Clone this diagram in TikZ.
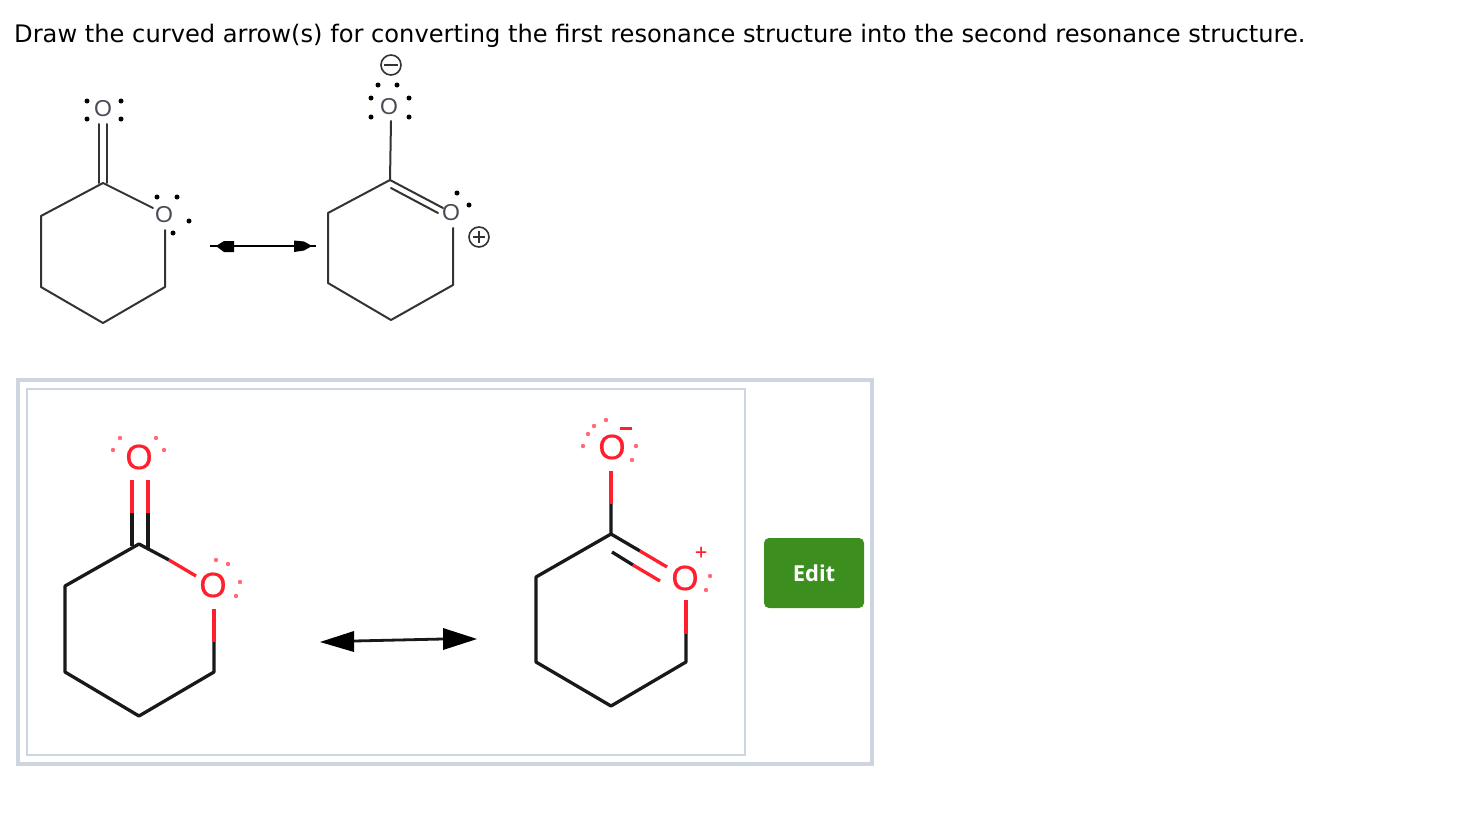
\documentclass[tikz,border=0pt]{standalone}
\usepackage{fontspec}
\setmainfont{DejaVu Sans}
\newfontfamily\atomfont{Liberation Sans}
\newfontfamily\atomboldfont[FakeBold=0.5]{Liberation Sans}
\newfontfamily\btnfont{Open Sans}
\usetikzlibrary{calc}
\definecolor{frameblue}{HTML}{CDD5E1}
\definecolor{btngreen}{HTML}{3C8F1F}
\definecolor{atomred}{HTML}{FF1F2D}
\definecolor{dotred}{HTML}{FF6B74}
\definecolor{atomgrey}{HTML}{4A4A55}
\newcommand{\pxfont}[1]{\fontsize{#1}{#1}\selectfont}
\tikzset{
  x=1pt,y=-1pt,
  thinbond/.style={draw=black!80,line width=2pt,line cap=round,line join=round},
  redbond/.style={draw=atomred,line width=3.3pt},
  blackbond/.style={draw=black!90,line width=3.3pt,line join=round},
  topO/.style={text=atomgrey,inner sep=0pt,font=\atomfont\pxfont{23}},
  redO/.style={text=atomred,inner sep=0pt,font=\atomboldfont\pxfont{35}},
  sign/.style={text=atomred,inner sep=0pt,font=\atomboldfont\pxfont{21}},
  charge/.style={circle,draw=black!80,line width=1.6pt,minimum size=20pt,inner sep=0pt},
  arrowfill/.style={fill=black,draw=none},
}
\begin{document}
\begin{tikzpicture}
\useasboundingbox (0,0) rectangle (1478,822);
\fill[white] (0,0) rectangle (1478,822);
\node[anchor=base west,inner sep=0pt,font=\pxfont{24.15}] (title) at (14,42)
  {Draw the curved arrow(s) for converting the first resonance structure into the second resonance structure.};

% --- top left molecule
\node[topO] (a1) at (103,109) {O};
\node[topO] (a2) at (164,215) {O};
\coordinate (ac) at (103,183);
\coordinate (aul) at (41,216);
\coordinate (all) at (41,287);
\coordinate (ab) at (103,323);
\coordinate (alr) at (165,287);
\coordinate (ao) at (153,208);
\coordinate (aod) at (165,230);
\draw[thinbond] (ao) -- (ac) -- (aul) -- (all) -- (ab) -- (alr) -- (aod);
\draw[thinbond] ($(a1)+(-4,15)$) -- ($(ac)+(-4,0)$);
\draw[thinbond] ($(a1)+(4,15)$) -- ($(ac)+(4,0)$);
\foreach \p in {(87,101),(121,101),(87,119),(121,119),(157,197),(177,197),(189,221),(173,233)}
  \fill[black] \p circle (2.5pt);

% --- top arrow
\coordinate (t1) at (210,246);
\coordinate (t2) at (316,246);
\draw[black,line width=2.6pt] (t1) -- (t2);
\fill[arrowfill] (216,246) -- (224,241) -- (234,241) -- (234,252) -- (224,252) -- cycle;
\fill[arrowfill] (312,246) -- (304,241.5) -- (294,240.5) -- (294,252) -- (304,250.5) -- cycle;

% --- top right molecule
\node[topO] (b1) at (389,107) {O};
\node[topO] (b2) at (451,213) {O};
\coordinate (bc) at (390,180);
\coordinate (bul) at (328,213);
\coordinate (bll) at (328,283);
\coordinate (bb) at (391,320);
\coordinate (blr) at (453,285);
\coordinate (bod) at (453,228);
\coordinate (bt) at (391,121);
\coordinate (bd1) at (443,208);
\coordinate (bd2a) at (391,188);
\coordinate (bd2b) at (438,213);
\draw[thinbond] (bt) -- (bc) -- (bul) -- (bll) -- (bb) -- (blr) -- (bod);
\draw[thinbond] (bc) -- (bd1);
\draw[thinbond] (bd2a) -- (bd2b);
\foreach \p in {(378,85),(397,85),(371,98),(409,98),(371,117),(409,117),(457,193),(469,205)}
  \fill[black] \p circle (2.5pt);
\node[charge] (minus) at (391,65) {};
\draw[black!80,line width=1.6pt] ($(minus)+(-7,0)$) -- ($(minus)+(7,0)$);
\node[charge] (plus) at (479,237) {};
\draw[black!80,line width=1.6pt] ($(plus)+(-6,0)$) -- ($(plus)+(6,0)$);
\draw[black!80,line width=1.6pt] ($(plus)+(0,-6)$) -- ($(plus)+(0,6)$);

% --- frames
\node[draw=frameblue,line width=4pt,minimum width=854pt,minimum height=384pt,inner sep=0pt] (outer) at (445,572) {};
\node[draw=frameblue,line width=2pt,minimum width=718pt,minimum height=366pt,inner sep=0pt] (inner) at (386,572) {};

% --- button
\node[fill=btngreen,rounded corners=5pt,minimum width=100pt,minimum height=70pt,inner sep=0pt] (edit) at (814,573) {};
\node[text=white,inner sep=0pt,font=\btnfont\bfseries\pxfont{22}] (edittext) at (814,573) {Edit};

% --- bottom left molecule
\node[redO] (c1) at (139,457) {O};
\node[redO] (c2) at (213,585) {O};
\coordinate (cc) at (139,544);
\coordinate (cul) at (65,586);
\coordinate (cll) at (65,672);
\coordinate (cb) at (139,716);
\coordinate (clr) at (214,672);
\coordinate (cm) at (214,642);
\coordinate (ct) at (214,609);
\coordinate (co) at (196,576);
\coordinate (com) at (169,560);
\draw[blackbond] (com) -- (cc) -- (cul) -- (cll) -- (cb) -- (clr) -- (cm);
\draw[redbond] (cm) -- (ct);
\draw[redbond] (com) -- (co);
\draw[blackbond] (132,546) -- (132,513);
\draw[blackbond] (148,548) -- (148,513);
\draw[redbond] (132,513) -- (132,480);
\draw[redbond] (148,513) -- (148,480);
\foreach \p in {(113,450),(120,438),(156,438),(164,450),(216,560),(228,564),(240,582),(236,596)}
  \fill[dotred] \p circle (2.2pt);

% --- bottom arrow
\coordinate (d1) at (354,641);
\coordinate (d2) at (443,639);
\draw[black!90,line width=2.8pt] (d1) -- (d2);
\fill[arrowfill] (320,642) -- (354,631) -- (354,652) -- cycle;
\fill[arrowfill] (477,639) -- (443,628) -- (443,650) -- cycle;

% --- bottom right molecule
\node[redO] (e1) at (612,447) {O};
\node[redO] (e2) at (685,578) {O};
\node[sign] (em) at (626,428.5) {\rule{12pt}{2.4pt}};
\node[sign] (ep) at (701,553) {+};
\coordinate (ec) at (611,534);
\coordinate (eul) at (536,577);
\coordinate (ell) at (536,662);
\coordinate (eb) at (611,706);
\coordinate (elr) at (686,662);
\coordinate (em1) at (686,634);
\coordinate (et1) at (686,600);
\coordinate (em2) at (611,504);
\coordinate (et2) at (611,471);
\coordinate (ed1) at (640,551);
\coordinate (ed2) at (667,567);
\coordinate (ei1) at (612,552);
\coordinate (ei2) at (633,565);
\coordinate (ei3) at (660,581);
\draw[blackbond] (em2) -- (ec) -- (eul) -- (ell) -- (eb) -- (elr) -- (em1);
\draw[blackbond] (ec) -- (ed1);
\draw[blackbond] (ei1) -- (ei2);
\draw[redbond] (em1) -- (et1);
\draw[redbond] (em2) -- (et2);
\draw[redbond] (ed1) -- (ed2);
\draw[redbond] (ei2) -- (ei3);
\foreach \p in {(583,446),(588,434),(594,426),(606,420),(636,446),(632,460),(710,576),(706,590)}
  \fill[dotred] \p circle (2.2pt);
\end{tikzpicture}
\end{document}
